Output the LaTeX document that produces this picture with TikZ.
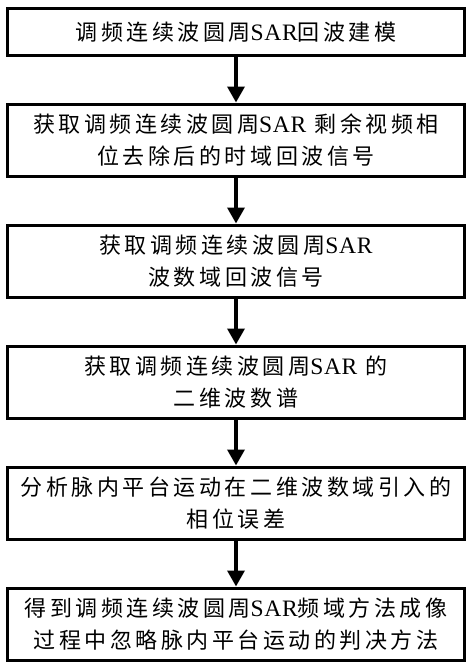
\documentclass[tikz,border=0pt]{standalone}
\usepackage{fontspec}
\setmainfont{Noto Sans CJK SC}[LetterSpace=16]
\newfontfamily\latinfont{Liberation Serif}[Scale=1.07,LetterSpace=3]
\newcommand{\SAR}{{\latinfont SAR}}
\usetikzlibrary{positioning,arrows.meta}

\begin{document}
\begin{tikzpicture}[x=1pt,y=1pt,->,>={Triangle[length=16pt,width=17pt]},line width=3.5pt,node distance=45.5pt]
  \tikzstyle{stepbox}=[draw,rectangle,line width=3pt,minimum width=457pt,minimum height=72.5pt,inner sep=0pt,align=center,font=\fontsize{22}{32}\selectfont]
  \useasboundingbox (0,0) rectangle (474,-672);
  \node[stepbox,minimum height=47pt] (model) at (236,-32) {调频连续波圆周\SAR 回波建模};
  \node[stepbox] (time)     [below=of model]    {获取调频连续波圆周\SAR\ 剩余视频相\\位去除后的时域回波信号};
  \node[stepbox] (wavenum)  [below=of time]     {获取调频连续波圆周\SAR\\波数域回波信号};
  \node[stepbox] (spectrum) [below=of wavenum]  {获取调频连续波圆周\SAR\ 的\\二维波数谱};
  \node[stepbox] (error)    [below=of spectrum] {分析脉内平台运动在二维波数域引入的\\相位误差};
  \node[stepbox] (decide)   [below=of error]    {得到调频连续波圆周\SAR 频域方法成像\\过程中忽略脉内平台运动的判决方法};
  \path (model)    edge (time)
        (time)     edge (wavenum)
        (wavenum)  edge (spectrum)
        (spectrum) edge (error)
        (error)    edge (decide);
\end{tikzpicture}
\end{document}
